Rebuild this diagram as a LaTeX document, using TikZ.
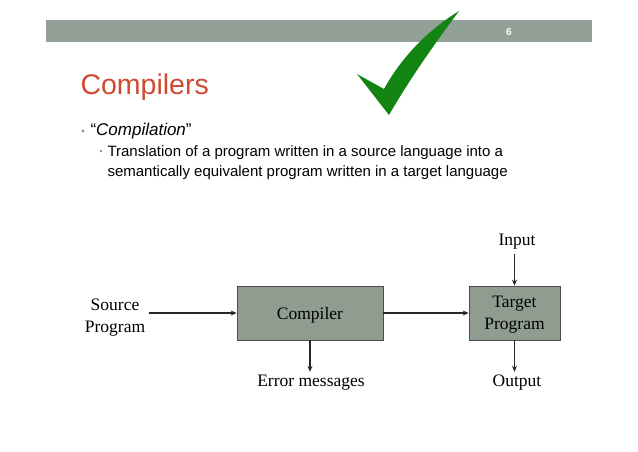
\documentclass[tikz,border=0pt]{standalone}
\usepackage{fontspec}
\setmainfont{Liberation Serif}
\newfontfamily\slidefont{Liberation Sans}
\usetikzlibrary{arrows.meta}
\definecolor{barcol}{RGB}{147,160,151}
\definecolor{boxcol}{RGB}{143,157,145}
\definecolor{titlecol}{RGB}{208,74,51}
\definecolor{tickcol}{RGB}{18,132,18}
\definecolor{dotcol}{RGB}{150,150,150}
\tikzset{
  unit/.style={draw=black!70,fill=boxcol,line width=0.8pt,minimum height=54pt,text depth=0pt,align=center,font=\fontsize{17.5}{22}\selectfont},
  label/.style={align=center,font=\fontsize{17.5}{22}\selectfont},
  flow/.style={-{Stealth[length=6pt,width=5pt]},line width=1.1pt,black!85}
}
\begin{document}
\begin{tikzpicture}[x=1pt,y=-1pt]
\useasboundingbox[fill=white] (0,0) rectangle (638,451);
% header bar and page number
\fill[barcol] (46,20) rectangle (592,42);
\node[text=white,font=\slidefont\bfseries\fontsize{10}{12}\selectfont] (page) at (509,32) {6};
% tick
\fill[tickcol] (357,74) -- (384,89) .. controls (400,60) and (425,32) .. (459,11)
  .. controls (445,30) and (415,70) .. (389,115) -- cycle;
% title and bullets
\node[anchor=west,text=titlecol,font=\slidefont\fontsize{28.5}{34}\selectfont] (title) at (77,87) {Compilers};
\fill[dotcol] (83,131) circle (1.6);
\node[anchor=west,font=\slidefont\fontsize{17}{20}\selectfont] (term) at (87,131) {“\textit{Compilation}”};
\fill[dotcol] (101,151) circle (1.4);
\node[anchor=north west,align=left,font=\slidefont\fontsize{15}{20}\selectfont] (def) at (104,142)
  {Translation of a program written in a source language into a\\semantically equivalent program written in a target language};
% diagram
\node[unit,minimum width=146pt] (comp) at (310,313) {Compiler};
\node[unit,minimum width=91pt] (tgt) at (514.5,313) {Target\\Program};
\node[label] (src) at (115,318) {Source\\Program};
\node[label] (inp) at (517,242) {Input};
\node[label] (out) at (517,383) {Output};
\node[label] (err) at (311,383) {Error messages};
\draw[flow] (src.east) ++(0,-5) coordinate (s) -- (s -| comp.west);
\draw[flow] (comp.east) -- (tgt.west);
\draw[flow] (inp.south -| tgt.north) ++(0,1) -- (tgt.north);
\draw[flow] (comp.south) -- (comp.south |- err.north);
\draw[flow] (tgt.south) -- (tgt.south |- out.north);
\end{tikzpicture}
\end{document}
